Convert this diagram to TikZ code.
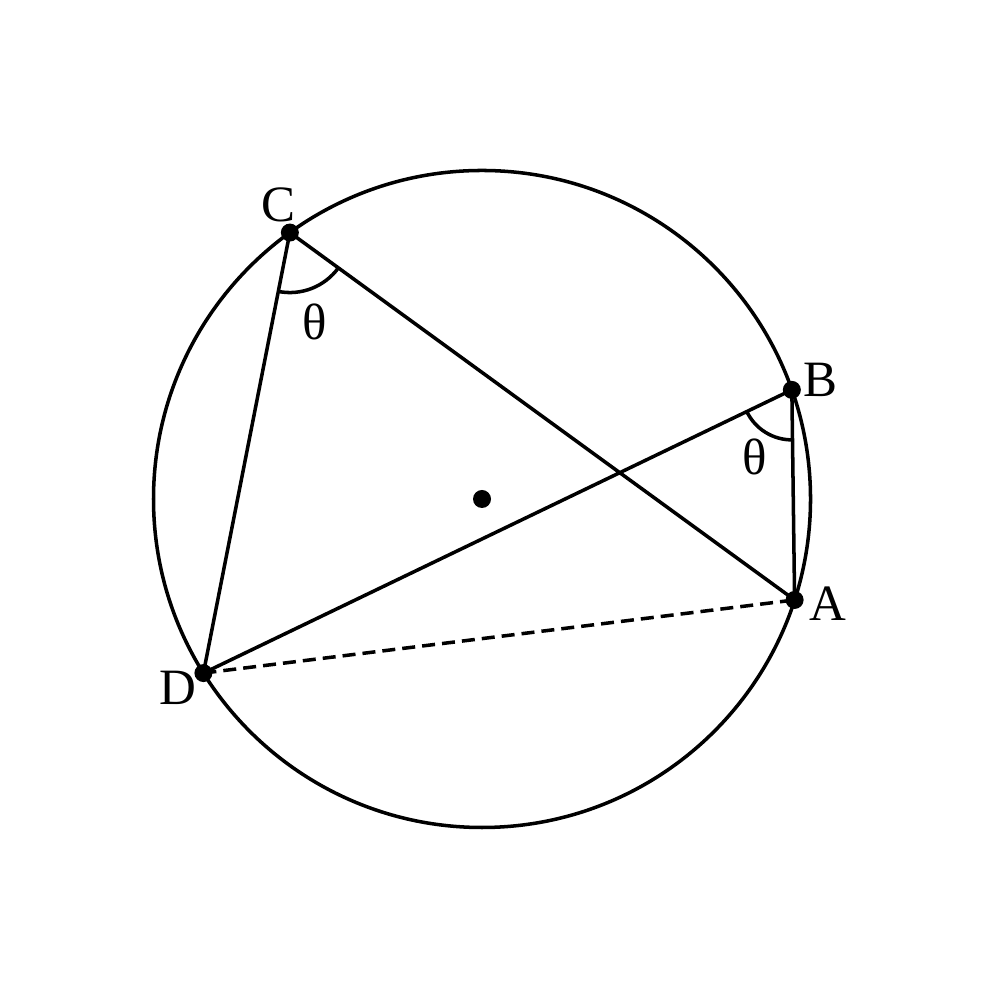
\documentclass[tikz,border=0pt]{standalone}
\usepackage{fontspec}
\setmainfont{Liberation Serif}
\usetikzlibrary{angles}
\def\bigcircle{(4.82,5.01) circle (3.285cm)}

\begin{document}
\begin{tikzpicture}[line width=1pt,
    dot/.style={circle, fill, inner sep=0pt, minimum size=0.18cm},
    lbl/.style={font=\fontsize{14.5}{16}\selectfont}]
    \useasboundingbox (0,0) rectangle (10,10);
    \coordinate (O) at (4.82,5.01);
    \path (O) ++(125.8:3.285) coordinate (C)
          (O) ++(19.4:3.285) coordinate (B)
          (O) ++(-17.9:3.285) coordinate (A)
          (O) ++(212:3.285) coordinate (D);
    \draw \bigcircle;
    % chords
    \draw (C) -- (D) (C) -- (A) (B) -- (D) (B) -- (A);
    \draw[dash pattern=on 3.7pt off 2pt] (D) -- (A);
    % angles
    \pic[draw, angle radius=0.6cm] {angle = D--C--A};
    \pic[draw, angle radius=0.5cm] {angle = D--B--A};
    \node[lbl] (tc) at (3.15,6.78) {θ};
    \node[lbl] (tb) at (7.55,5.43) {θ};
    \node[dot] (o) at (O) {};
    \node[dot] (c) at (C) {};
    \node[dot] (b) at (B) {};
    \node[dot] (a) at (A) {};
    \node[dot] (d) at (D) {};
    \node[lbl] (lc) at (2.78,7.95) {C};
    \node[lbl] (lb) at (8.20,6.20) {B};
    \node[lbl] (la) at (8.28,3.96) {A};
    \node[lbl] (ld) at (1.78,3.12) {D};
\end{tikzpicture}
\end{document}
